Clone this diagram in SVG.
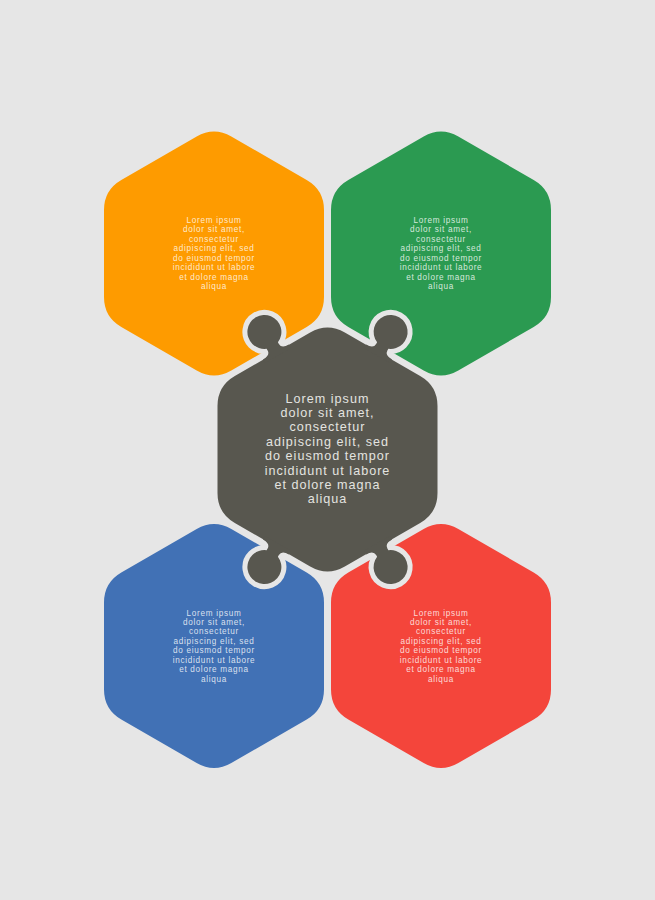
<svg xmlns="http://www.w3.org/2000/svg" xmlns:xlink="http://www.w3.org/1999/xlink" width="655" height="900" viewBox="0 0 655 900">
<style>
.small{font-family:"Liberation Sans",Arial,sans-serif;font-size:8.2px;fill:#ffffff;fill-opacity:0.8;text-anchor:middle;letter-spacing:0.7px}
.big{font-family:"Liberation Sans",Arial,sans-serif;font-size:12.6px;fill:#e4e4e0;text-anchor:middle;letter-spacing:1px}
.knobline{fill:#e6e6e6;stroke:#e6e6e6;stroke-width:10;stroke-linejoin:round}
.dark{fill:#58574f}
</style>
<defs>
<path id="hex" d="M -17.32 -117 Q 0 -127 17.32 -117 L 92.68 -73.5 Q 110 -63.5 110 -43.5 L 110 43.5 Q 110 63.5 92.68 73.5 L 17.32 117 Q 0 127 -17.32 117 L -92.68 73.5 Q -110 63.5 -110 43.5 L -110 -43.5 Q -110 -63.5 -92.68 -73.5 Z"/>
<path id="knob" d="M -15 4 L -15 0 Q -6.5 0 -6.5 -5.5 L -6.5 -7.5 A 17 17 0 1 1 6.5 -7.5 L 6.5 -5.5 Q 6.5 0 15 0 L 15 4 Z"/>
</defs>
<rect width="655" height="900" fill="#e6e6e6"/>
<g id="node-orange">
<use xlink:href="#hex" transform="translate(214,253.5)" fill="#fe9b00"/>
<text class="small" x="214" y="223">
<tspan x="214" dy="0">Lorem ipsum</tspan><tspan x="214" dy="9.45">dolor sit amet,</tspan><tspan x="214" dy="9.45">consectetur</tspan><tspan x="214" dy="9.45">adipiscing elit, sed</tspan><tspan x="214" dy="9.45">do eiusmod tempor</tspan><tspan x="214" dy="9.45">incididunt ut labore</tspan><tspan x="214" dy="9.45">et dolore magna</tspan><tspan x="214" dy="9.45">aliqua</tspan>
</text>
</g>
<g id="node-green">
<use xlink:href="#hex" transform="translate(441,253.5)" fill="#2b9a51"/>
<text class="small" x="441" y="223">
<tspan x="441" dy="0">Lorem ipsum</tspan><tspan x="441" dy="9.45">dolor sit amet,</tspan><tspan x="441" dy="9.45">consectetur</tspan><tspan x="441" dy="9.45">adipiscing elit, sed</tspan><tspan x="441" dy="9.45">do eiusmod tempor</tspan><tspan x="441" dy="9.45">incididunt ut labore</tspan><tspan x="441" dy="9.45">et dolore magna</tspan><tspan x="441" dy="9.45">aliqua</tspan>
</text>
</g>
<g id="node-blue">
<use xlink:href="#hex" transform="translate(214,646)" fill="#4171b5"/>
<text class="small" x="214" y="615.5">
<tspan x="214" dy="0">Lorem ipsum</tspan><tspan x="214" dy="9.45">dolor sit amet,</tspan><tspan x="214" dy="9.45">consectetur</tspan><tspan x="214" dy="9.45">adipiscing elit, sed</tspan><tspan x="214" dy="9.45">do eiusmod tempor</tspan><tspan x="214" dy="9.45">incididunt ut labore</tspan><tspan x="214" dy="9.45">et dolore magna</tspan><tspan x="214" dy="9.45">aliqua</tspan>
</text>
</g>
<g id="node-red">
<use xlink:href="#hex" transform="translate(441,646)" fill="#f4453b"/>
<text class="small" x="441" y="615.5">
<tspan x="441" dy="0">Lorem ipsum</tspan><tspan x="441" dy="9.45">dolor sit amet,</tspan><tspan x="441" dy="9.45">consectetur</tspan><tspan x="441" dy="9.45">adipiscing elit, sed</tspan><tspan x="441" dy="9.45">do eiusmod tempor</tspan><tspan x="441" dy="9.45">incididunt ut labore</tspan><tspan x="441" dy="9.45">et dolore magna</tspan><tspan x="441" dy="9.45">aliqua</tspan>
</text>
</g>
<g id="node-center">
<use xlink:href="#knob" class="knobline" transform="translate(276,352) rotate(-30)"/>
<use xlink:href="#knob" class="knobline" transform="translate(379,352) rotate(30)"/>
<use xlink:href="#knob" class="knobline" transform="translate(276,547) rotate(-150)"/>
<use xlink:href="#knob" class="knobline" transform="translate(379,547) rotate(150)"/>
<use xlink:href="#hex" class="dark" transform="translate(327.5,449.5)"/>
<use xlink:href="#knob" class="dark" transform="translate(276,352) rotate(-30)"/>
<use xlink:href="#knob" class="dark" transform="translate(379,352) rotate(30)"/>
<use xlink:href="#knob" class="dark" transform="translate(276,547) rotate(-150)"/>
<use xlink:href="#knob" class="dark" transform="translate(379,547) rotate(150)"/>
<text class="big" x="327.5" y="402.5">
<tspan x="327.5" dy="0">Lorem ipsum</tspan><tspan x="327.5" dy="14.4">dolor sit amet,</tspan><tspan x="327.5" dy="14.4">consectetur</tspan><tspan x="327.5" dy="14.4">adipiscing elit, sed</tspan><tspan x="327.5" dy="14.4">do eiusmod tempor</tspan><tspan x="327.5" dy="14.4">incididunt ut labore</tspan><tspan x="327.5" dy="14.4">et dolore magna</tspan><tspan x="327.5" dy="14.4">aliqua</tspan>
</text>
</g>
<g id="connectors"/>
</svg>
